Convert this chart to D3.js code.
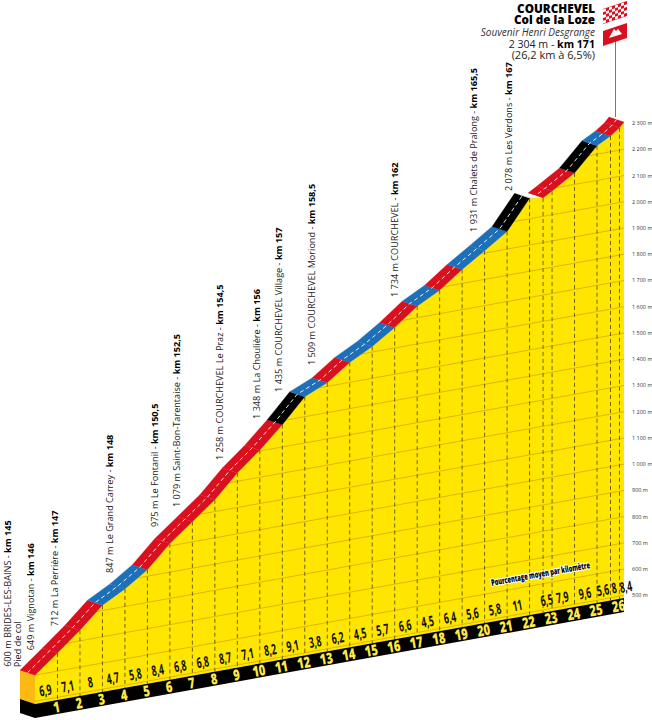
<!DOCTYPE html>
<html>
<head>
<meta charset="utf-8">
<script src="https://cdn.jsdelivr.net/npm/d3@7"></script>
<style>
  html, body { margin: 0; padding: 0; background: #fff; }
  svg { display: block; }
  text { font-family: "Open Sans", sans-serif; }
</style>
</head>
<body>
<div id="profil"></div>
<script>
// points du profil : km depuis le pied de col, altitude en m
const kmPoints = [0,1,2,3,4,5,6,7,8,9,10,11,12,13,14,15,16,17,18,19,20,21,22,22.6,23,24,25,25.6,26,26.2];
const altitudes = [600,669,740,820,867,925,1009,1077,1145,1232,1303,1385,1476,1514,1576,1621,1678,1744,1789,1853,1909,1967,2078,2070,2090,2144,2232,2260,2285,2304];
const pourcents = ["6,9","7,1","8","4,7","5,8","8,4","6,8","6,8","8,7","7,1","8,2","9,1","3,8","6,2","4,5","5,7","6,6","4,5","6,4","5,6","5,8","11","","6,5","7,9","9,6","5,6","8","8,4"];
const couleurs = ["r","r","r","b","b","r","r","r","r","r","r","n","b","r","b","b","r","b","r","b","b","n","g","r","r","n","b","r","r"];
const kmLabels = d3.range(1, 27);
const altTicks = d3.range(500, 2301, 100);

// cols : texte normal, texte gras, position (km, altitude du bas du texte)
const colNoms = ["600 m BRIDES-LES-BAINS - ","Pied de col","649 m Vignotan - ","712 m La Perrière - ","847 m Le Grand Carrey - ","975 m Le Fontanil - ","1 079 m Saint-Bon-Tarentaise - ","1 258 m COURCHEVEL Le Praz - ","1 348 m La Choulière - ","1 435 m COURCHEVEL Village - ","1 509 m COURCHEVEL Moriond - ","1 734 m COURCHEVEL - ","1 931 m Chalets de Pralong - ","2 078 m Les Verdons - "];
const colBornes = ["km 145","","km 146","km 147","km 148","km 150,5","km 152,5","km 154,5","km 156","km 157","km 158,5","km 162","km 165,5","km 167"];
const colKm = [-1.2,-0.76,-0.18,0.89,3.34,5.34,6.32,8.23,9.88,10.85,12.32,16.01,19.53,21.09];
const colAlt = [650,642,698,773,938,1082,1143,1293,1424,1512,1592,1794,1988,2120];

const palette = {r: "#d9101e", b: "#1d6fb8", n: "#000", g: "#cfcfcf"};
const jaune = "#ffe600";
const orange = "#fdb913";

const width = 652, height = 720;
const svg = d3.select("#profil").append("svg").attr("width", width).attr("height", height);

// perspective : le sol monte vers la droite
const x = d3.scaleLinear().domain([0, 26.2]).range([35, 624]);
const sol = d3.scaleLinear().domain([0, 26.2]).range([704, 598]);
const hauteur = d3.scaleLinear().domain([490, 2304]).range([0, 476]);
const yAlt = (km, alt) => sol(km) - hauteur(alt);

const dos = {x: -15, y: -5}; // decalage de l'arriere de la route
const bande = 14;

const front = kmPoints.map((k, i) => [x(k), yAlt(k, altitudes[i])]);
const ligne = d3.line();

// face jaune
const faceJaune = front.concat([[x(26.2), sol(26.2)], [x(0), sol(0)]]);
svg.append("clipPath").attr("id", "clipJaune").append("path").attr("d", ligne(faceJaune) + "Z");
svg.append("path").attr("d", ligne(faceJaune) + "Z").attr("fill", jaune);

// grille d'altitude
const grille = svg.append("g").attr("clip-path", "url(#clipJaune)");
altTicks.forEach(a => {
  grille.append("line")
    .attr("x1", x(0)).attr("y1", yAlt(0, a))
    .attr("x2", x(26.2)).attr("y2", yAlt(26.2, a))
    .attr("stroke", "#dcae08").attr("stroke-width", 0.9);
});

// verticales pointillees
kmPoints.slice(1, -1).forEach((k, i) => {
  svg.append("line")
    .attr("x1", x(k)).attr("y1", yAlt(k, altitudes[i + 1]))
    .attr("x2", x(k)).attr("y2", sol(k))
    .attr("stroke", "#4a4300").attr("stroke-width", 0.8).attr("stroke-dasharray", "4,3");
});

// cote gauche du socle
const gauche = x(0) + dos.x;
svg.append("path")
  .attr("d", ligne([[gauche, yAlt(0, 600) + dos.y], front[0], [x(0), sol(0)], [gauche, sol(0) + dos.y]]) + "Z")
  .attr("fill", orange);
svg.append("path")
  .attr("d", ligne([[gauche, sol(0) + dos.y], [x(0), sol(0)], [x(0), sol(0) + bande], [gauche, sol(0) + dos.y + bande]]) + "Z")
  .attr("fill", "#000");

// bande noire des km
const bandePts = [[x(0), sol(0)], [x(26.2), sol(26.2)], [x(26.2), sol(26.2) + bande], [x(0), sol(0) + bande]];
svg.append("clipPath").attr("id", "clipBande").append("path").attr("d", ligne(bandePts) + "Z");
svg.append("path").attr("d", ligne(bandePts) + "Z").attr("fill", "#000");

const angle = Math.atan2(sol(26.2) - sol(0), x(26.2) - x(0)) * 180 / Math.PI;

const numeros = svg.append("g").attr("clip-path", "url(#clipBande)");
kmLabels.forEach(k => {
  numeros.append("text")
    .attr("transform", `translate(${x(k)},${sol(k) + 12.5}) rotate(${angle}) scale(0.74,1)`)
    .attr("text-anchor", "middle")
    .attr("font-size", 15).attr("font-weight", 800)
    .attr("fill", "#ffe94a").text(k);
});

// pourcentages
pourcents.forEach((p, i) => {
  if (!p) return;
  let milieu = (kmPoints[i] + kmPoints[i + 1]) / 2;
  let px = x(milieu) + (i === pourcents.length - 1 ? 5 : 0);
  svg.append("text")
    .attr("transform", `translate(${px},${sol(milieu) - 6.5}) rotate(${angle}) scale(0.6,1)`)
    .attr("text-anchor", "middle")
    .attr("font-size", 14.5).attr("font-weight", 700)
    .attr("fill", "#111").text(p);
});

// route
couleurs.forEach((c, i) => {
  const a = front[i], b = front[i + 1];
  if (c === "g") {
    // petite descente : juste un liseré clair
    svg.append("path")
      .attr("d", ligne([[a[0] + dos.x, a[1] + dos.y], [a[0], a[1] - 1], b, a]) + "Z")
      .attr("fill", palette.g);
    return;
  }
  svg.append("path")
    .attr("d", ligne([[a[0] + dos.x, a[1] + dos.y], [b[0] + dos.x, b[1] + dos.y], b, a]) + "Z")
    .attr("fill", palette[c]).attr("stroke", palette[c]).attr("stroke-width", 0.3);
});
// trait blanc au milieu de la route
const milieuRoute = front.map(p => [p[0] + dos.x / 2, p[1] + dos.y / 2]);
svg.append("path").attr("d", ligne(milieuRoute)).attr("fill", "none")
  .attr("stroke", "#fff").attr("stroke-width", 0.9).attr("stroke-dasharray", "4,3");

// altitudes a droite
altTicks.forEach(a => {
  svg.append("text").attr("x", 632).attr("y", yAlt(26.2, a) + 2)
    .attr("font-size", 5.5).attr("fill", "#333")
    .text(d3.format(",")(a).replace(",", " ") + " m");
});

// textes verticaux
colNoms.forEach((n, i) => {
  const t = svg.append("text")
    .attr("transform", `translate(${x(colKm[i])},${yAlt(colKm[i], colAlt[i])}) rotate(-90) scale(0.95,1)`)
    .attr("dy", "0.35em").attr("font-size", 9.6).attr("fill", "#222");
  t.append("tspan").text(n);
  if (colBornes[i]) t.append("tspan").attr("font-weight", 700).attr("fill", "#000").text(colBornes[i]);
});

// legende pourcentages
svg.append("text")
  .attr("transform", `translate(541,577) rotate(${angle}) scale(0.63,1)`)
  .attr("text-anchor", "middle").attr("font-size", 9).attr("font-weight", 800)
  .attr("fill", "#000").attr("stroke", "#fff").attr("stroke-width", 2.2)
  .attr("paint-order", "stroke").attr("stroke-linejoin", "round")
  .text("Pourcentage moyen par kilomètre");

// arrivee
const titres = [
  {t: "COURCHEVEL", y: 12.5, s: 11.7, w: 800, c: "#000"},
  {t: "Col de la Loze", y: 24, s: 11.7, w: 800, c: "#000"},
  {t: "Souvenir Henri Desgrange", y: 36, s: 10, st: "italic", c: "#333"},
  {t: "2 304 m - ", b: "km 171", y: 48, s: 10.6, c: "#222"},
  {t: "(26,2 km à 6,5%)", y: 59, s: 11, c: "#222"}
];
titres.forEach(d => {
  const t = svg.append("text").attr("x", 595).attr("y", d.y).attr("text-anchor", "end")
    .attr("font-size", d.s).attr("fill", d.c);
  if (d.w) t.attr("font-weight", d.w);
  if (d.st) t.attr("font-style", d.st);
  t.append("tspan").text(d.t);
  if (d.b) t.append("tspan").attr("font-weight", 700).attr("fill", "#000").text(d.b);
});

// poteau et drapeaux
svg.append("line").attr("x1", 615.5).attr("y1", 40).attr("x2", 615.5).attr("y2", 117)
  .attr("stroke", "#777").attr("stroke-width", 1);
svg.append("path").attr("d", ligne([[603, 9], [627, 1], [627, 16], [603, 24]]) + "Z").attr("fill", "#d9101e");
for (let c = 0; c < 8; c++) {
  for (let r = 0; r < 5; r++) {
    if ((c + r) % 2) continue;
    const cx = 603 + c * 3, cy = 9.5 - c + r * 2.8;
    svg.append("path")
      .attr("d", ligne([[cx, cy], [cx + 3, cy - 1], [cx + 3, cy + 1.8], [cx, cy + 2.8]]) + "Z")
      .attr("fill", "#fff");
  }
}
svg.append("path").attr("d", ligne([[603, 31], [627, 23], [627, 38], [603, 46]]) + "Z").attr("fill", "#d9101e");
svg.append("path").attr("d", ligne([[609, 38], [614, 29], [616, 31], [618, 29], [622, 34]]) + "Z").attr("fill", "#fff");
</script>
</body>
</html>
